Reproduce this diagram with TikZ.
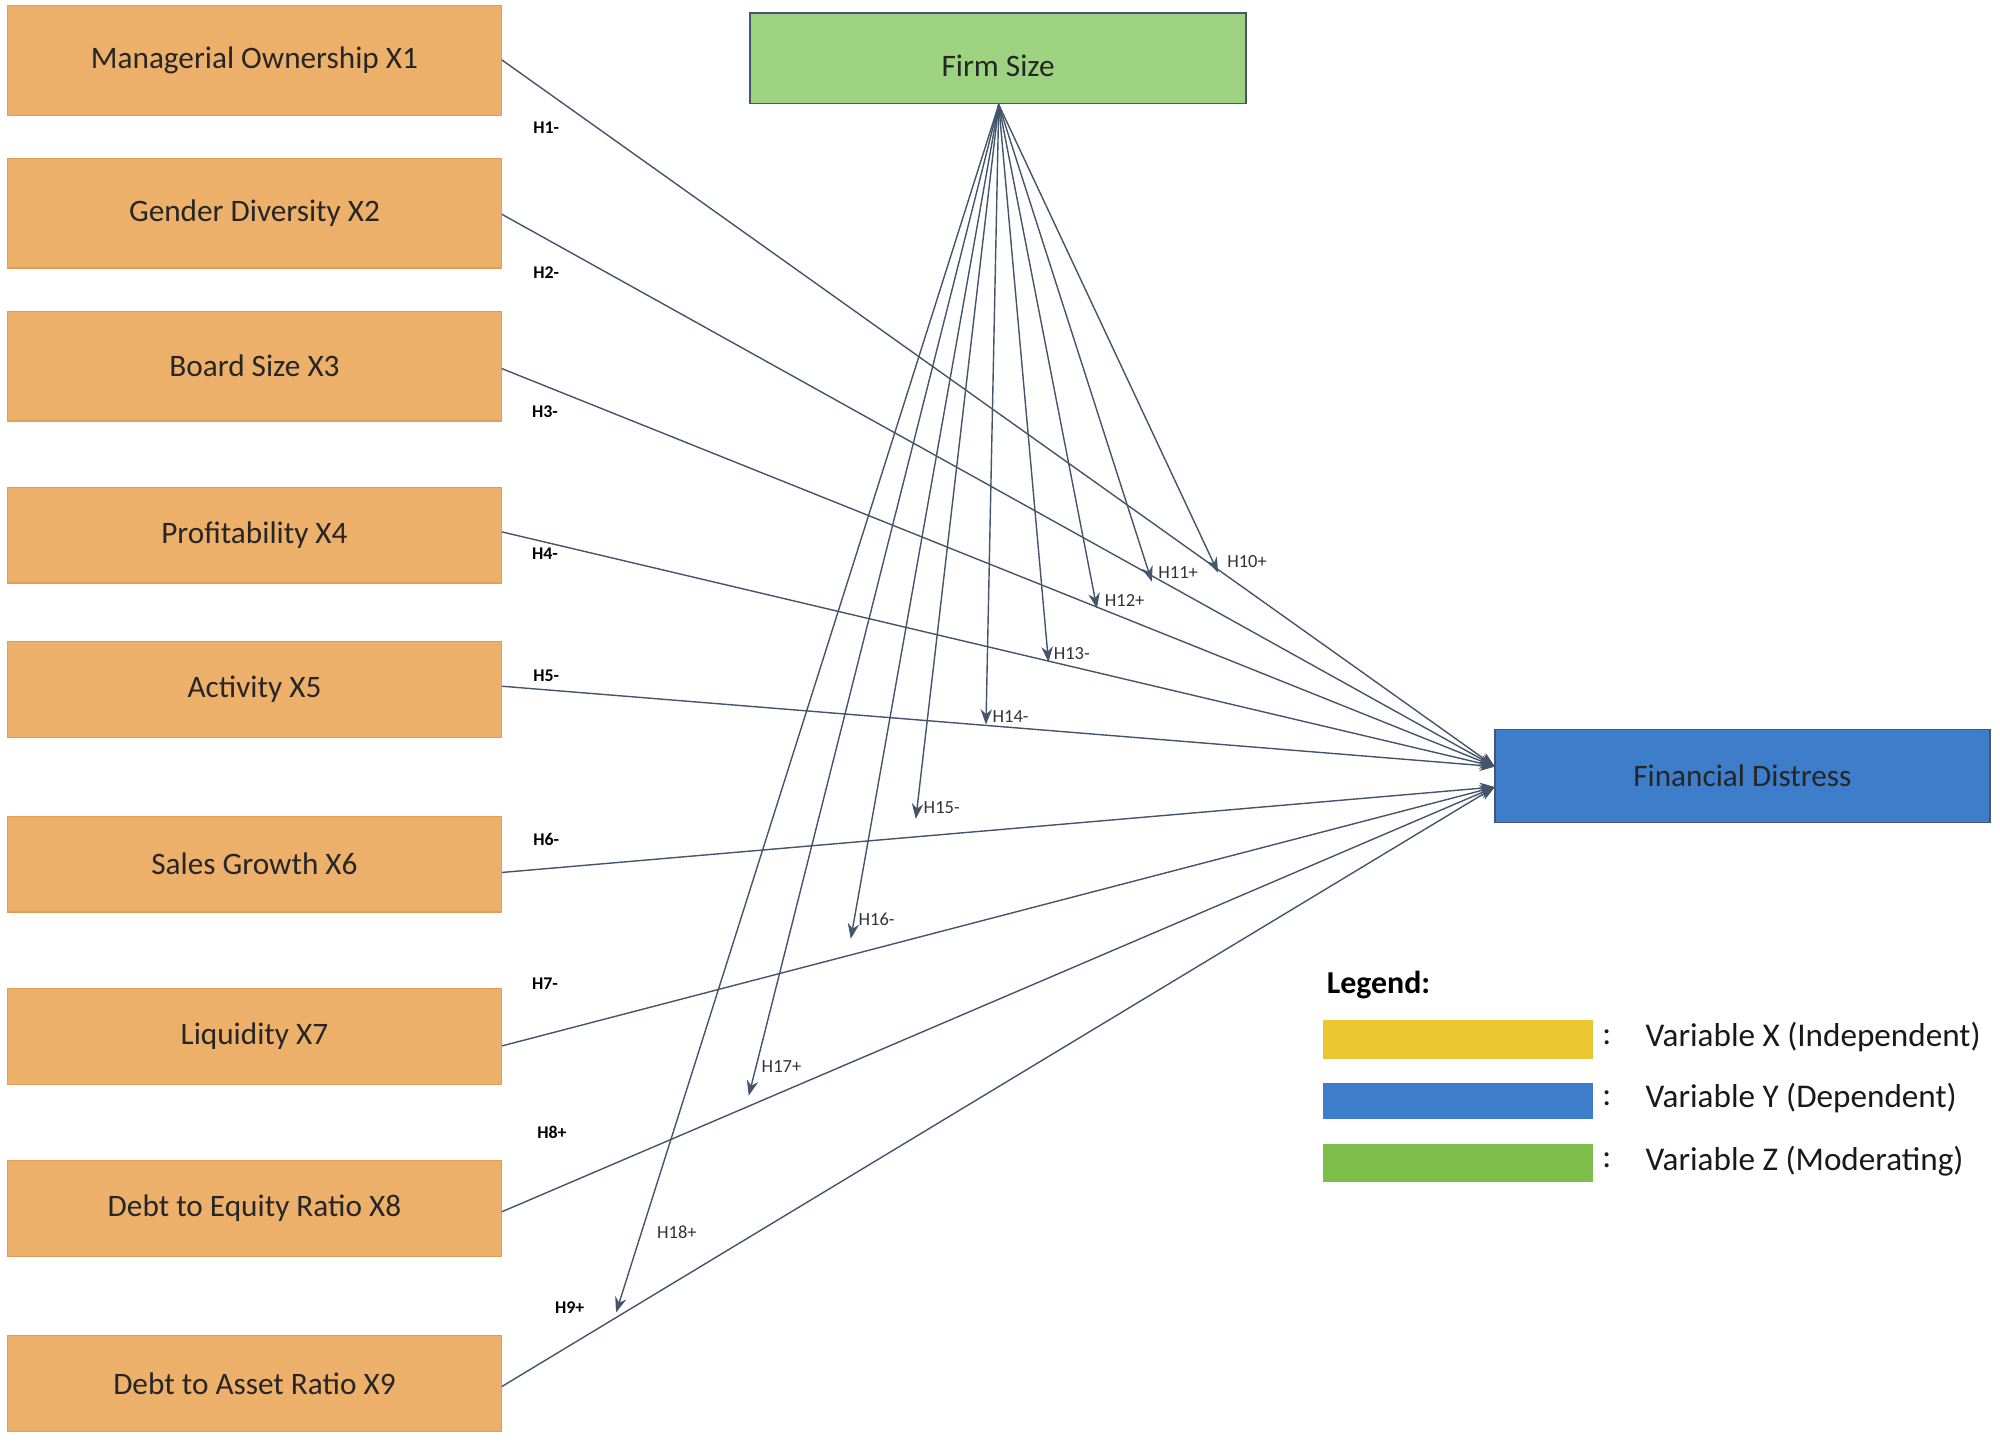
\documentclass[tikz,border=0pt]{standalone}
\usepackage{fontspec}
\setmainfont{Carlito}
\usetikzlibrary{arrows.meta}
\definecolor{xorange}{RGB}{237,176,107}
\definecolor{xorangeb}{RGB}{226,158,82}
\definecolor{zgreen}{RGB}{157,211,128}
\definecolor{yblue}{RGB}{61,125,202}
\definecolor{boxline}{RGB}{70,86,110}
\definecolor{lineblue}{RGB}{68,84,106}
\definecolor{legyellow}{RGB}{234,199,50}
\definecolor{legblue}{RGB}{61,125,202}
\definecolor{leggreen}{RGB}{125,190,75}
\begin{document}
\begin{tikzpicture}[x=1pt,y=-1pt,
  xbox/.style={draw=xorangeb, line width=1pt, fill=xorange, minimum width=387pt, inner sep=0pt,
    font=\fontsize{24.5}{28}\selectfont, text=black!85},
  conn/.style={draw=lineblue, line width=1.1pt, -{Stealth[length=12pt,width=9pt]}},
  hlab/.style={anchor=west, inner sep=0pt, font=\bfseries\fontsize{14}{16}\selectfont},
  mlab/.style={anchor=west, inner sep=0pt, font=\fontsize{14.5}{16}\selectfont, text=black!80},
  swatch/.style={minimum width=212pt, inner sep=0pt},
  legtext/.style={anchor=west, inner sep=0pt, font=\fontsize{26}{30}\selectfont, text=black!90}
]
\useasboundingbox (0,0) rectangle (1568,1130);

% independent variables
\node[xbox, minimum height=86pt] (x1) at (199.5,47.5) {Managerial Ownership X1};
\node[xbox, minimum height=86pt] (x2) at (199.5,167) {Gender Diversity X2};
\node[xbox, minimum height=86pt] (x3) at (199.5,287) {Board Size X3};
\node[xbox, minimum height=75pt] (x4) at (199.5,419.5) {Profitability X4};
\node[xbox, minimum height=75pt] (x5) at (199.5,540.5) {Activity X5};
\node[xbox, minimum height=75pt] (x6) at (199.5,677.5) {Sales Growth X6};
\node[xbox, minimum height=75pt] (x7) at (199.5,812.5) {Liquidity X7};
\node[xbox, minimum height=75pt] (x8) at (199.5,947.5) {Debt to Equity Ratio X8};
\node[xbox, minimum height=75pt] (x9) at (199.5,1084.5) {Debt to Asset Ratio X9};

% moderating and dependent
\node[draw=boxline, line width=1.2pt, fill=zgreen, minimum width=389pt, minimum height=71pt,
  inner sep=0pt] (fs) at (782.5,45.5) {};
\node[inner sep=0pt, font=\fontsize{24.5}{28}\selectfont, text=black!85] (fst) at ([yshift=-6pt]fs.center) {Firm Size};
\node[draw=boxline, line width=1.2pt, fill=yblue, minimum width=388pt, minimum height=73pt,
  inner sep=0pt, font=\fontsize{24.5}{28}\selectfont, text=black!85] (fd) at (1366,608.5) {Financial Distress};

% arrow end points on Financial Distress
\coordinate (fdU) at (1172,601);
\coordinate (fdL) at (1172,617);
\coordinate (fsB) at (783,82);

% direct effects
\draw[conn] (x1.east |- 0,47) -- (fdU);
\draw[conn] (x2.east |- 0,168) -- (fdU);
\draw[conn] (x3.east |- 0,289) -- (fdU);
\draw[conn] (x4.east |- 0,417) -- (fdU);
\draw[conn] (x5.east |- 0,538) -- (fdU);
\draw[conn] (x6.east |- 0,684) -- (fdL);
\draw[conn] (x7.east |- 0,820) -- (fdL);
\draw[conn] (x8.east |- 0,950) -- (fdL);
\draw[conn] (x9.east |- 0,1087) -- (fdL);

% moderating arrow tips
\coordinate (t10) at (955,449);
\coordinate (t11) at (903,456);
\coordinate (t12) at (860,477);
\coordinate (t13) at (822,519);
\coordinate (t14) at (773,568);
\coordinate (t15) at (718,642);
\coordinate (t16) at (667,736);
\coordinate (t17) at (587,859);
\coordinate (t18) at (483,1029);
\foreach \t in {t10,t11,t12,t13,t14,t15,t16,t17,t18}
  \draw[conn] (fsB) -- (\t);

% hypothesis labels
\node[hlab] (h1) at (418,100) {H1-};
\node[hlab] (h2) at (418,214) {H2-};
\node[hlab] (h3) at (417,323) {H3-};
\node[hlab] (h4) at (417,434) {H4-};
\node[hlab] (h5) at (418,530) {H5-};
\node[hlab] (h6) at (418,658) {H6-};
\node[hlab] (h7) at (417,771) {H7-};
\node[hlab] (h8) at (421,888) {H8+};
\node[hlab] (h9) at (435,1025) {H9+};
\node[mlab] (h10) at (962,440) {H10+};
\node[mlab] (h11) at (908,449) {H11+};
\node[mlab] (h12) at (866,471) {H12+};
\node[mlab] (h13) at (826,512) {H13-};
\node[mlab] (h14) at (778,562) {H14-};
\node[mlab] (h15) at (724,633) {H15-};
\node[mlab] (h16) at (673,721) {H16-};
\node[mlab] (h17) at (597,836) {H17+};
\node[mlab] (h18) at (515,966) {H18+};

% legend
\node[anchor=west, inner sep=0pt, font=\bfseries\fontsize{25}{30}\selectfont] (leg) at (1040,772) {Legend:};
\node[swatch, fill=legyellow, minimum height=30pt] (sx) at (1143,815) {};
\node[swatch, fill=legblue, minimum height=28pt] (sy) at (1143,863) {};
\node[swatch, fill=leggreen, minimum height=30pt] (sz) at (1143,912) {};
\node[legtext] (cx) at (1256,813) {:};
\node[legtext] (cy) at (1256,861) {:};
\node[legtext] (cz) at (1256,910) {:};
\node[legtext] (lx) at (1290,813) {Variable X (Independent)};
\node[legtext] (ly) at (1290,861) {Variable Y (Dependent)};
\node[legtext] (lz) at (1290,910) {Variable Z (Moderating)};
\end{tikzpicture}
\end{document}
